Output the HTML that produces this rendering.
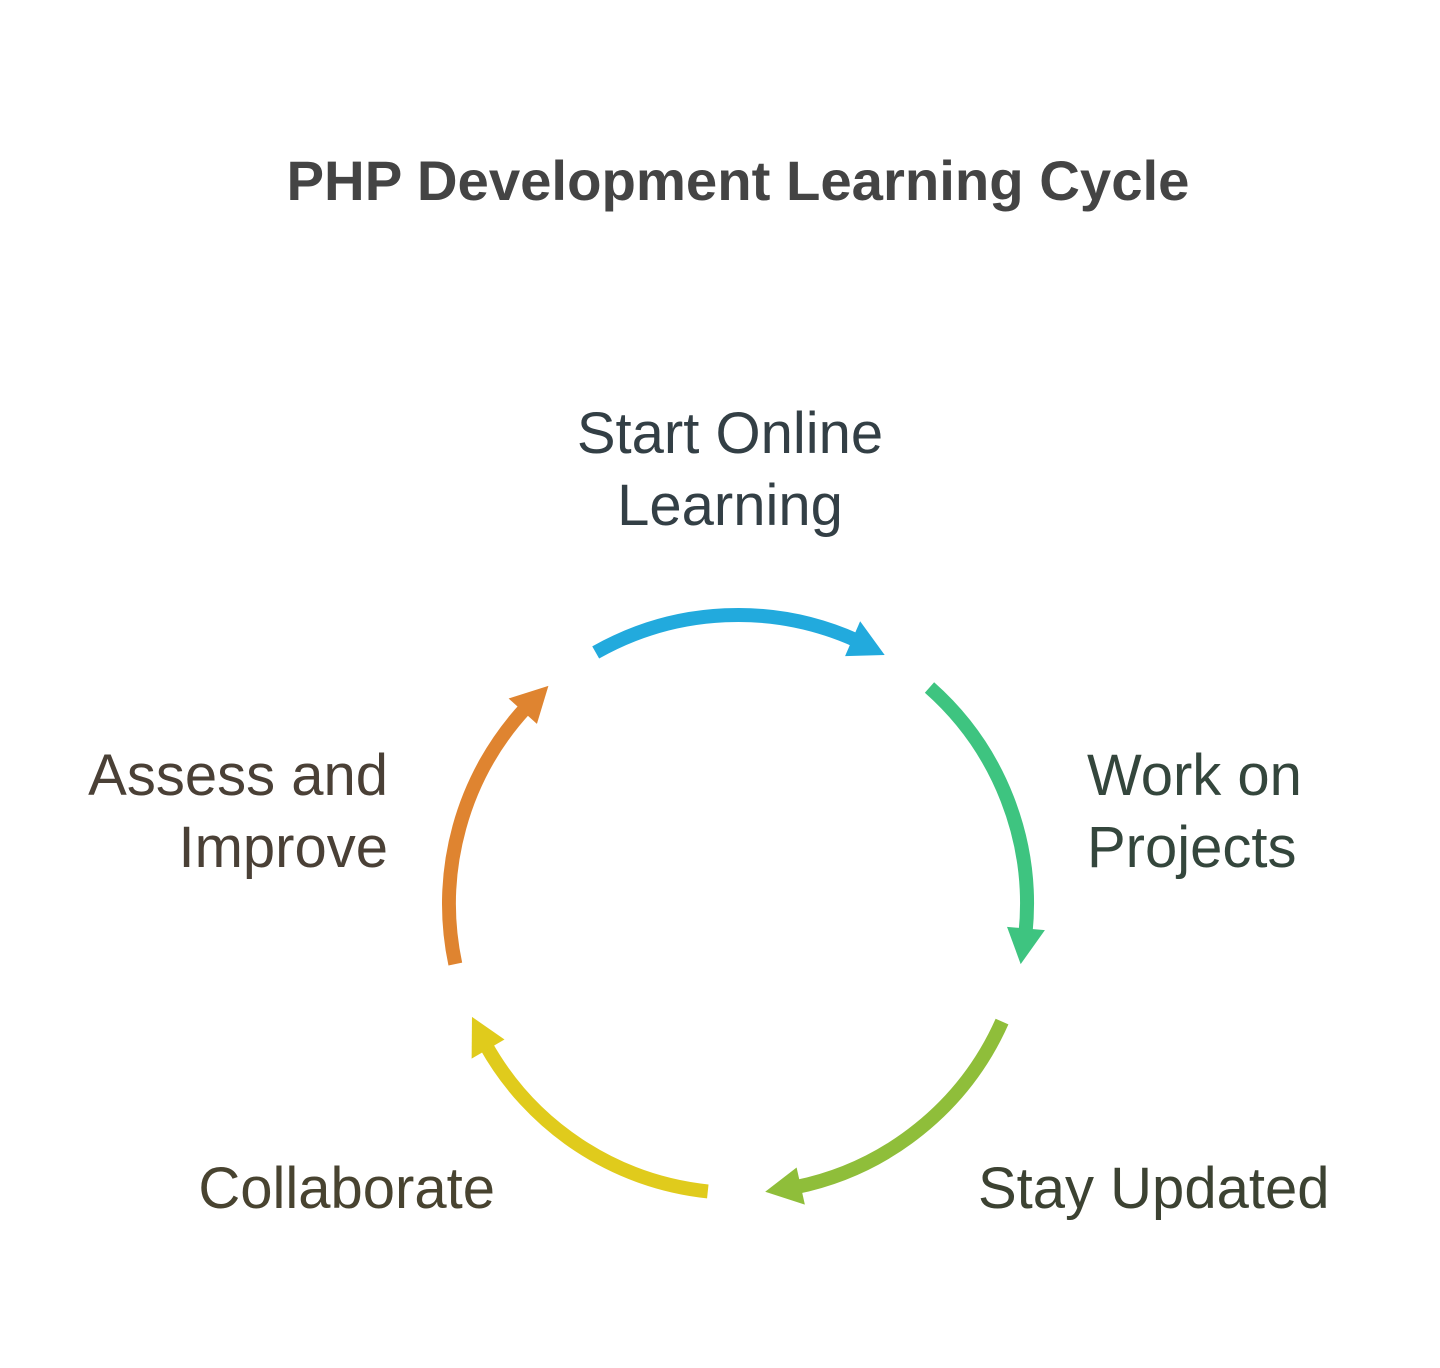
<!DOCTYPE html>
<html><head><meta charset="utf-8"><style>
body{margin:0;background:#fff;}
svg{display:block}
text{font-family:"Liberation Sans",sans-serif;}
</style></head><body>
<svg id="s" width="1440" height="1368" viewBox="0 0 1440 1368">
<text x="738" y="200" text-anchor="middle" font-size="56" font-weight="bold" fill="#444" textLength="903" lengthAdjust="spacingAndGlyphs">PHP Development Learning Cycle</text>
<text x="730" y="453" text-anchor="middle" font-size="58" fill="#333f45">Start Online</text>
<text x="730" y="525" text-anchor="middle" font-size="58" fill="#333f45">Learning</text>
<text x="1087" y="795" font-size="58" fill="#34463c">Work on</text>
<text x="1087" y="867" font-size="58" fill="#34463c">Projects</text>
<text x="978" y="1208" font-size="58" fill="#3c4232">Stay Updated</text>
<text x="495" y="1208" text-anchor="end" font-size="58" fill="#484330">Collaborate</text>
<text x="388" y="795" text-anchor="end" font-size="58" fill="#4a4036">Assess and</text>
<text x="388" y="867" text-anchor="end" font-size="58" fill="#4a4036">Improve</text>
</svg>
<script>
var s=document.getElementById('s'),cx=738,cy=904,r=289;
var arcs=[[-29.5,30.5,'#22aadd'],[41.5,102,'#3ec480'],[114,174.6,'#8fbe3a'],[186,247,'#e0cb1c'],[258,319,'#df8430']];
function P(a,rr){a=a*Math.PI/180;return [cx+rr*Math.sin(a),cy-rr*Math.cos(a)];}
var ns='http://www.w3.org/2000/svg';
arcs.forEach(function(c){
 var al=36/r*180/Math.PI, e=c[1]-al+1;
 var p0=P(c[0],r),p1=P(e,r);
 var p=document.createElementNS(ns,'path');
 p.setAttribute('d','M'+p0+' A'+r+' '+r+' 0 0 1 '+p1);
 p.setAttribute('fill','none');p.setAttribute('stroke',c[2]);p.setAttribute('stroke-width','14');
 s.appendChild(p);
 var b=c[1]-al,t=P(c[1],r),q1=P(b,r-19),q2=P(b,r+19);
 var g=document.createElementNS(ns,'polygon');
 g.setAttribute('points',t+' '+q1+' '+q2);g.setAttribute('fill',c[2]);
 s.appendChild(g);
});
</script>
</body></html>
